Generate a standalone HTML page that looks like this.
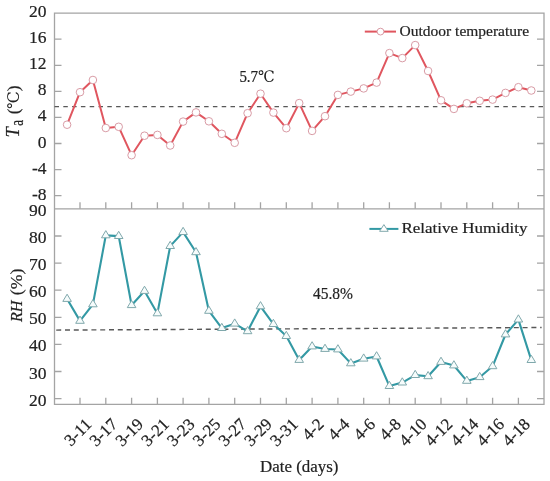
<!DOCTYPE html>
<html><head><meta charset="utf-8"><style>html,body{margin:0;padding:0;background:#fff;width:550px;height:481px;overflow:hidden}svg{display:block}text{stroke:#222;stroke-width:.2px}.nc{stroke:none}</style></head>
<body>
<svg width="550" height="481" viewBox="0 0 550 481" font-family='"Liberation Serif", "DejaVu Serif", serif'>
<rect width="550" height="481" fill="#fff"/>
<g stroke="#a4a4a4" stroke-width="1.3" fill="none">
<path d="M54.5,13.2H544.0V404.3H54.5Z M54.5,208.8H544.0"/>
<path d="M54.5,39.2h7M544.0,39.2h-7M54.5,65.3h7M544.0,65.3h-7M54.5,91.3h7M544.0,91.3h-7M54.5,117.4h7M544.0,117.4h-7M54.5,143.5h7M544.0,143.5h-7M54.5,169.6h7M544.0,169.6h-7M54.5,195.7h7M544.0,195.7h-7M54.5,236.0h7M544.0,236.0h-7M54.5,263.1h7M544.0,263.1h-7M54.5,290.2h7M544.0,290.2h-7M54.5,317.3h7M544.0,317.3h-7M54.5,344.4h7M544.0,344.4h-7M54.5,371.5h7M544.0,371.5h-7M54.5,398.6h7M544.0,398.6h-7M80.0,208.8v-6.5M80.0,404.3v-6.5M105.8,208.8v-6.5M105.8,404.3v-6.5M131.6,208.8v-6.5M131.6,404.3v-6.5M157.4,208.8v-6.5M157.4,404.3v-6.5M183.1,208.8v-6.5M183.1,404.3v-6.5M208.9,208.8v-6.5M208.9,404.3v-6.5M234.7,208.8v-6.5M234.7,404.3v-6.5M260.5,208.8v-6.5M260.5,404.3v-6.5M286.3,208.8v-6.5M286.3,404.3v-6.5M312.1,208.8v-6.5M312.1,404.3v-6.5M337.9,208.8v-6.5M337.9,404.3v-6.5M363.7,208.8v-6.5M363.7,404.3v-6.5M389.4,208.8v-6.5M389.4,404.3v-6.5M415.2,208.8v-6.5M415.2,404.3v-6.5M441.0,208.8v-6.5M441.0,404.3v-6.5M466.8,208.8v-6.5M466.8,404.3v-6.5M492.6,208.8v-6.5M492.6,404.3v-6.5M518.4,208.8v-6.5M518.4,404.3v-6.5"/>
</g>
<path d="M54.5,106.6H543.9" stroke="#585858" stroke-width="1.4" stroke-dasharray="4.5 4.3"/>
<path d="M56.2,330.1L541.6,327.5" stroke="#585858" stroke-width="1.4" stroke-dasharray="5 3.8"/>
<polyline points="67.1,124.7 80.0,92.2 92.9,80.0 105.8,128.0 118.7,126.8 131.6,155.2 144.5,135.7 157.4,134.9 170.2,145.5 183.1,121.6 196.0,112.4 208.9,121.3 221.8,133.8 234.7,142.8 247.6,113.2 260.5,93.7 273.4,112.6 286.3,128.2 299.2,103.1 312.1,130.9 325.0,116.2 337.9,94.9 350.8,91.6 363.7,88.4 376.6,82.6 389.4,53.1 402.3,58.1 415.2,45.1 428.1,71.0 441.0,100.3 453.9,108.9 466.8,103.3 479.7,100.8 492.6,99.6 505.5,92.9 518.4,87.2 531.3,90.5" fill="none" stroke="#e0565f" stroke-width="2.0" stroke-linejoin="round"/>
<g fill="#fff" stroke="#d99ca6" stroke-width="1">
<circle cx="67.1" cy="124.7" r="3.8"/>
<circle cx="80.0" cy="92.2" r="3.8"/>
<circle cx="92.9" cy="80.0" r="3.8"/>
<circle cx="105.8" cy="128.0" r="3.8"/>
<circle cx="118.7" cy="126.8" r="3.8"/>
<circle cx="131.6" cy="155.2" r="3.8"/>
<circle cx="144.5" cy="135.7" r="3.8"/>
<circle cx="157.4" cy="134.9" r="3.8"/>
<circle cx="170.2" cy="145.5" r="3.8"/>
<circle cx="183.1" cy="121.6" r="3.8"/>
<circle cx="196.0" cy="112.4" r="3.8"/>
<circle cx="208.9" cy="121.3" r="3.8"/>
<circle cx="221.8" cy="133.8" r="3.8"/>
<circle cx="234.7" cy="142.8" r="3.8"/>
<circle cx="247.6" cy="113.2" r="3.8"/>
<circle cx="260.5" cy="93.7" r="3.8"/>
<circle cx="273.4" cy="112.6" r="3.8"/>
<circle cx="286.3" cy="128.2" r="3.8"/>
<circle cx="299.2" cy="103.1" r="3.8"/>
<circle cx="312.1" cy="130.9" r="3.8"/>
<circle cx="325.0" cy="116.2" r="3.8"/>
<circle cx="337.9" cy="94.9" r="3.8"/>
<circle cx="350.8" cy="91.6" r="3.8"/>
<circle cx="363.7" cy="88.4" r="3.8"/>
<circle cx="376.6" cy="82.6" r="3.8"/>
<circle cx="389.4" cy="53.1" r="3.8"/>
<circle cx="402.3" cy="58.1" r="3.8"/>
<circle cx="415.2" cy="45.1" r="3.8"/>
<circle cx="428.1" cy="71.0" r="3.8"/>
<circle cx="441.0" cy="100.3" r="3.8"/>
<circle cx="453.9" cy="108.9" r="3.8"/>
<circle cx="466.8" cy="103.3" r="3.8"/>
<circle cx="479.7" cy="100.8" r="3.8"/>
<circle cx="492.6" cy="99.6" r="3.8"/>
<circle cx="505.5" cy="92.9" r="3.8"/>
<circle cx="518.4" cy="87.2" r="3.8"/>
<circle cx="531.3" cy="90.5" r="3.8"/>
</g>
<polyline points="67.1,299.0 80.0,320.9 92.9,304.4 105.8,235.4 118.7,236.1 131.6,305.2 144.5,291.0 157.4,313.4 170.2,246.1 183.1,232.1 196.0,252.3 208.9,310.9 221.8,328.1 234.7,323.7 247.6,331.3 260.5,306.4 273.4,324.1 286.3,336.1 299.2,360.0 312.1,346.5 325.0,349.0 337.9,349.5 350.8,363.4 363.7,358.7 376.6,356.5 389.4,386.1 402.3,382.6 415.2,375.1 428.1,376.3 441.0,362.0 453.9,365.5 466.8,380.9 479.7,377.2 492.6,366.3 505.5,334.5 518.4,319.6 531.3,360.1" fill="none" stroke="#3399a4" stroke-width="2.1" stroke-linejoin="round"/>
<g fill="#f6fcfc" stroke="#80a8ac" stroke-width="1">
<path d="M67.1,294.2L71.4,301.4H62.8Z"/>
<path d="M80.0,316.1L84.3,323.3H75.7Z"/>
<path d="M92.9,299.6L97.2,306.8H88.6Z"/>
<path d="M105.8,230.6L110.1,237.8H101.5Z"/>
<path d="M118.7,231.3L123.0,238.5H114.4Z"/>
<path d="M131.6,300.4L135.9,307.6H127.3Z"/>
<path d="M144.5,286.2L148.8,293.4H140.2Z"/>
<path d="M157.4,308.6L161.7,315.8H153.1Z"/>
<path d="M170.2,241.3L174.5,248.5H165.9Z"/>
<path d="M183.1,227.3L187.4,234.5H178.8Z"/>
<path d="M196.0,247.5L200.3,254.7H191.7Z"/>
<path d="M208.9,306.1L213.2,313.3H204.6Z"/>
<path d="M221.8,323.3L226.1,330.5H217.5Z"/>
<path d="M234.7,318.9L239.0,326.1H230.4Z"/>
<path d="M247.6,326.5L251.9,333.7H243.3Z"/>
<path d="M260.5,301.6L264.8,308.8H256.2Z"/>
<path d="M273.4,319.3L277.7,326.5H269.1Z"/>
<path d="M286.3,331.3L290.6,338.5H282.0Z"/>
<path d="M299.2,355.2L303.5,362.4H294.9Z"/>
<path d="M312.1,341.7L316.4,348.9H307.8Z"/>
<path d="M325.0,344.2L329.3,351.4H320.7Z"/>
<path d="M337.9,344.7L342.2,351.9H333.6Z"/>
<path d="M350.8,358.6L355.1,365.8H346.5Z"/>
<path d="M363.7,353.9L368.0,361.1H359.4Z"/>
<path d="M376.6,351.7L380.9,358.9H372.2Z"/>
<path d="M389.4,381.3L393.7,388.5H385.1Z"/>
<path d="M402.3,377.8L406.6,385.0H398.0Z"/>
<path d="M415.2,370.3L419.5,377.5H410.9Z"/>
<path d="M428.1,371.5L432.4,378.7H423.8Z"/>
<path d="M441.0,357.2L445.3,364.4H436.7Z"/>
<path d="M453.9,360.7L458.2,367.9H449.6Z"/>
<path d="M466.8,376.1L471.1,383.3H462.5Z"/>
<path d="M479.7,372.4L484.0,379.6H475.4Z"/>
<path d="M492.6,361.5L496.9,368.7H488.3Z"/>
<path d="M505.5,329.7L509.8,336.9H501.2Z"/>
<path d="M518.4,314.8L522.7,322.0H514.1Z"/>
<path d="M531.3,355.3L535.6,362.5H527.0Z"/>
</g>
<path d="M364.8,31.6H396" stroke="#e0565f" stroke-width="2"/><circle cx="380.5" cy="31.6" r="3.4" fill="#fff" stroke="#d99ca6"/>
<path d="M369.4,228.9H398.4" stroke="#3399a4" stroke-width="2"/>
<path d="M383.9,224.6L388.2,231.3H379.59999999999997Z" fill="#fff" stroke="#80a8ac"/>
<g fill="#222">
<text x="399.6" y="35.8" font-size="15.5" textLength="129.5" lengthAdjust="spacingAndGlyphs">Outdoor temperature</text>
<text x="401.4" y="232.8" font-size="15.5" textLength="126" lengthAdjust="spacingAndGlyphs">Relative Humidity</text>
<text x="239.4" y="82.2" font-size="16" textLength="35.4" lengthAdjust="spacingAndGlyphs">5.7<tspan class="nc">℃</tspan></text>
<text x="313.0" y="298.8" font-size="16" textLength="40" lengthAdjust="spacingAndGlyphs">45.8%</text>
</g>
<g fill="#222" font-size="17.5" text-anchor="end">
<text x="46.5" y="17.1">20</text>
<text x="46.5" y="43.2">16</text>
<text x="46.5" y="69.3">12</text>
<text x="46.5" y="95.3">8</text>
<text x="46.5" y="121.4">4</text>
<text x="46.5" y="147.5">0</text>
<text x="46.5" y="173.6">-4</text>
<text x="46.5" y="199.7">-8</text>
<text x="46.5" y="215.9">90</text>
<text x="46.5" y="243.0">80</text>
<text x="46.5" y="270.1">70</text>
<text x="46.5" y="297.2">60</text>
<text x="46.5" y="324.3">50</text>
<text x="46.5" y="351.4">40</text>
<text x="46.5" y="378.5">30</text>
<text x="46.5" y="405.6">20</text>
</g>
<text transform="translate(18.6,137.4) rotate(-90)" font-size="18.5" fill="#222" font-style="italic">T</text>
<text transform="translate(22.8,126.0) rotate(-90) scale(0.78,1)" font-size="18" fill="#222">a</text>
<text transform="translate(18.6,114.2) rotate(-90)" font-size="17.5" fill="#222">(</text>
<text transform="translate(18.6,109.0) rotate(-90)" font-size="16" fill="#222" class="nc">℃</text>
<text transform="translate(18.6,91.2) rotate(-90)" font-size="17.5" fill="#222">)</text>
<text transform="translate(22.2,322.0) rotate(-90)" font-size="16.5" fill="#222" font-style="italic" textLength="21.5" lengthAdjust="spacingAndGlyphs">RH</text>
<text transform="translate(22.4,295.2) rotate(-90)" font-size="17" fill="#222" textLength="26.5" lengthAdjust="spacingAndGlyphs">(%)</text>
<text x="260" y="471.6" font-size="16.5" fill="#222" textLength="78.5" lengthAdjust="spacingAndGlyphs">Date (days)</text>
<g fill="#222" font-size="17" text-anchor="end">
<text transform="translate(92.6,425.3) rotate(-45)">3-11</text>
<text transform="translate(118.4,425.3) rotate(-45)">3-17</text>
<text transform="translate(144.2,425.3) rotate(-45)">3-19</text>
<text transform="translate(170.0,425.3) rotate(-45)">3-21</text>
<text transform="translate(195.7,425.3) rotate(-45)">3-23</text>
<text transform="translate(221.5,425.3) rotate(-45)">3-25</text>
<text transform="translate(247.3,425.3) rotate(-45)">3-27</text>
<text transform="translate(273.1,425.3) rotate(-45)">3-29</text>
<text transform="translate(298.9,425.3) rotate(-45)">3-31</text>
<text transform="translate(324.7,425.3) rotate(-45)">4-2</text>
<text transform="translate(350.5,425.3) rotate(-45)">4-4</text>
<text transform="translate(376.3,425.3) rotate(-45)">4-6</text>
<text transform="translate(402.0,425.3) rotate(-45)">4-8</text>
<text transform="translate(427.8,425.3) rotate(-45)">4-10</text>
<text transform="translate(453.6,425.3) rotate(-45)">4-12</text>
<text transform="translate(479.4,425.3) rotate(-45)">4-14</text>
<text transform="translate(505.2,425.3) rotate(-45)">4-16</text>
<text transform="translate(531.0,425.3) rotate(-45)">4-18</text>
</g>
</svg>
</body></html>
